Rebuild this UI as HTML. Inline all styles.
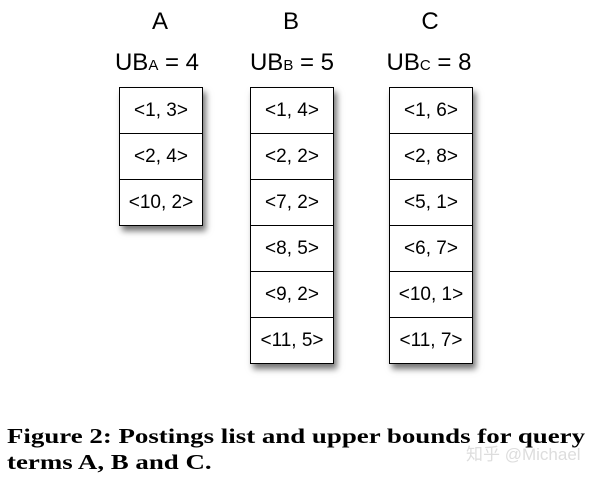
<!DOCTYPE html><html><head><style>
body{margin:0;width:600px;height:477px;background:#fff;position:relative;font-family:"Liberation Sans",sans-serif;overflow:hidden}
.h{position:absolute;font-size:24px;text-align:center;width:120px}
.col{position:absolute;top:87px;width:82px;border:1px solid #000;box-shadow:3px 5px 6px rgba(0,0,0,.55);background:#fff}
.col div{height:45px;border-top:1px solid #000;text-align:center;line-height:45px;font-size:19px}
.col div:first-child{border-top:none}
.cap{position:absolute;left:7px;top:423px;font-family:"Liberation Serif",serif;font-weight:bold;font-size:21px;line-height:26px;transform:scaleX(1.28);transform-origin:0 0;white-space:nowrap}
.wm{position:absolute;left:466px;top:440px;color:#ddd;font-size:17px;font-family:"Liberation Sans","Noto Sans CJK SC",sans-serif}
</style></head><body>
<div class="h" style="left:100px;top:8px">A</div>
<div class="h" style="left:231px;top:8px">B</div>
<div class="h" style="left:370px;top:8px">C</div>
<div class="h" style="left:97px;top:49px">UB<span style="font-size:15px">A</span> = 4</div>
<div class="h" style="left:232px;top:49px">UB<span style="font-size:15px">B</span> = 5</div>
<div class="h" style="left:369px;top:49px">UB<span style="font-size:15px">C</span> = 8</div>
<div class="col" style="left:119px"><div>&lt;1, 3&gt;</div><div>&lt;2, 4&gt;</div><div>&lt;10, 2&gt;</div></div>
<div class="col" style="left:250px"><div>&lt;1, 4&gt;</div><div>&lt;2, 2&gt;</div><div>&lt;7, 2&gt;</div><div>&lt;8, 5&gt;</div><div>&lt;9, 2&gt;</div><div>&lt;11, 5&gt;</div></div>
<div class="col" style="left:389px"><div>&lt;1, 6&gt;</div><div>&lt;2, 8&gt;</div><div>&lt;5, 1&gt;</div><div>&lt;6, 7&gt;</div><div>&lt;10, 1&gt;</div><div>&lt;11, 7&gt;</div></div>
<div class="cap">Figure 2: Postings list and upper bounds for query<br>terms A, B and C.</div>
<div class="wm">知乎 @Michael</div>
</body></html>
